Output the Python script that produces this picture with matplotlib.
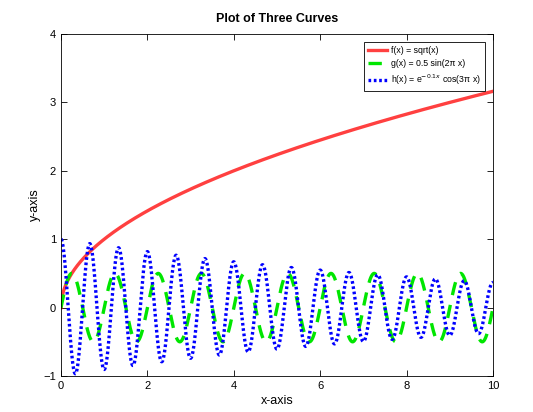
import numpy as np
import matplotlib
matplotlib.use("Agg")
import matplotlib.pyplot as plt

plt.rcParams['font.family'] = ['Liberation Sans', 'DejaVu Sans']

x = np.linspace(0, 10, 1000)
f_vals = np.sqrt(x)
g_vals = 0.5 * np.sin(2 * np.pi * x)
h_vals = np.exp(-0.1 * x) * np.cos(3 * np.pi * x)

labels = ['f(x) = sqrt(x)', 'g(x) = 0.5 sin(2\u03c0 x)', 'h(x) = e$^{-0.1x}$ cos(3\u03c0 x)']
xticks = [0, 2, 4, 6, 8, 10]
yticks = [-1, 0, 1, 2, 3, 4]

fig = plt.figure(figsize=(5.33, 4.12), dpi=100)
ax = fig.add_axes([61/533, 1-376/412, (493-61)/533, (376-34)/412])
ax.plot(x, f_vals, color=(1, 0, 0, 0.75), lw=2.4, label=labels[0])
ax.plot(x, g_vals, color=(0, 0.9, 0), lw=2.4, ls=(0, (4, 3)), label=labels[1])
ax.plot(x, h_vals, color=(0, 0, 1), lw=2.4, ls=(0, (0.8, 0.8)), label=labels[2])
ax.set_xlim(0, 10)
ax.set_ylim(-1, 4)
ax.set_xticks(xticks)
ax.set_yticks(yticks)
ax.tick_params(direction='in', top=True, right=True, labelsize=8, length=4, width=0.6)
for s in ax.spines.values():
    s.set_linewidth(0.6)
ax.set_xlabel('x-axis', fontsize=9, labelpad=3)
ax.set_ylabel('y-axis', fontsize=9, labelpad=2)
ax.set_title('Plot of Three Curves', fontsize=9, fontweight='bold', pad=9)
leg = ax.legend(loc='upper right', fontsize=6.3, fancybox=False, framealpha=1,
                edgecolor='black', bbox_to_anchor=(485/533, 1-42/412),
                bbox_transform=fig.transFigure, borderaxespad=0,
                handlelength=2.2, handletextpad=0.5, labelspacing=0.5,
                borderpad=0.45)
leg.get_frame().set_linewidth(0.6)
fig.savefig('out.png', dpi=100)
